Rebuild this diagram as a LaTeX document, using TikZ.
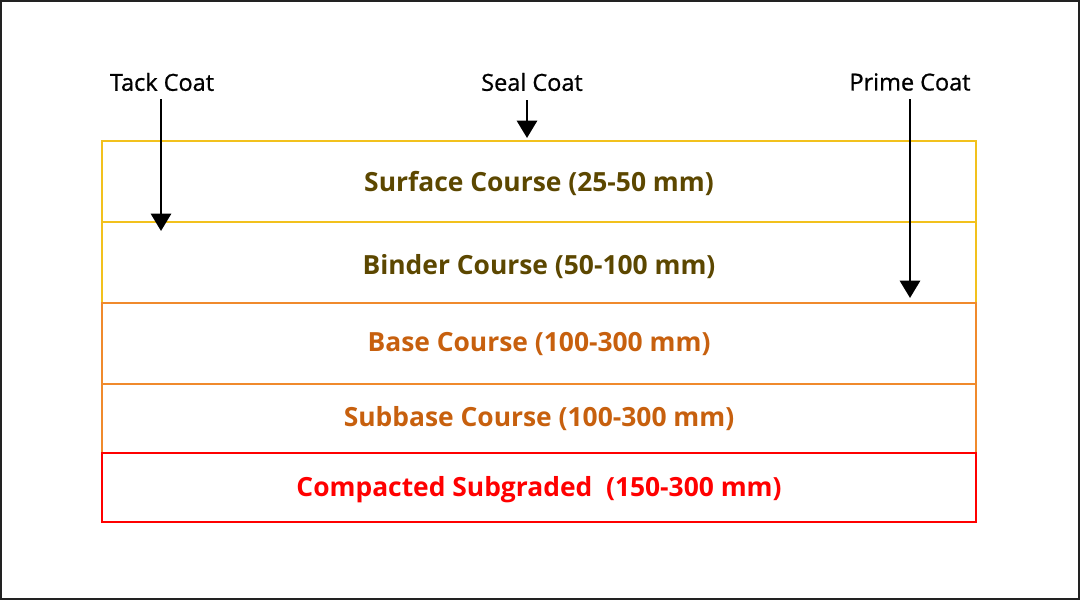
\documentclass[tikz,border=0pt]{standalone}
\usepackage{fontspec}
\setmainfont{Open Sans}
\newfontfamily\medfont{Open Sans}[RawFeature={embolden=0.9}]
\usetikzlibrary{arrows.meta}
\definecolor{frameC}{HTML}{222222}
\definecolor{yel}{HTML}{F2C11D}
\definecolor{olive}{HTML}{5C4700}
\definecolor{org}{HTML}{F08A2C}
\definecolor{orgtxt}{HTML}{C7600E}
\definecolor{redC}{HTML}{FF0000}
\tikzset{
  layer/.style={draw, line width=1.7pt},
  ltext/.style={font=\bfseries\fontsize{19.8}{22}\selectfont},
  coat/.style={font=\medfont\fontsize{17.6}{20}\selectfont, text=black, inner sep=1pt},
  arr/.style={line width=2.2pt, -{Triangle[length=13pt,width=15pt]}, black},
}
\begin{document}
\begin{tikzpicture}[x=0.75pt,y=-0.75pt]
\useasboundingbox (0,0) rectangle (1080,600);
\draw[frameC, line width=1.5pt] (1,1) rectangle (1079,599);
% layers
\draw[layer, yel] (102,141) rectangle (976,222);
\draw[layer, yel] (102,222) rectangle (976,303);
\draw[layer, org] (102,303) rectangle (976,384);
\draw[layer, org] (102,384) rectangle (976,453);
\draw[layer, redC, line width=2.2pt] (102,453) rectangle (976,522);
\node[ltext, text=olive] (surf) at (539,183) {Surface Course (25-50 mm)};
\node[ltext, text=olive] (bind) at (539,267) {Binder Course (50-100 mm)};
\node[ltext, text=orgtxt] (base) at (539,344) {Base Course (100-300 mm)};
\node[ltext, text=orgtxt] (subb) at (539,419) {Subbase Course (100-300 mm)};
\node[ltext, text=redC] (comp) at (539,490) {Compacted Subgraded\ \ (150-300 mm)};
% coats
\node[coat] (tack) at (162,82) {Tack Coat};
\node[coat] (seal) at (532,82) {Seal Coat};
\node[coat] (prime) at (910,82) {Prime Coat};
\coordinate (tackS) at (161,99);
\coordinate (tackE) at (161,231);
\coordinate (sealS) at (527,100);
\coordinate (sealE) at (527,138);
\coordinate (primeS) at (910,99);
\coordinate (primeE) at (910,298);
\draw[arr] (tackS) -- (tackE);
\draw[arr] (sealS) -- (sealE);
\draw[arr] (primeS) -- (primeE);
\end{tikzpicture}
\end{document}
